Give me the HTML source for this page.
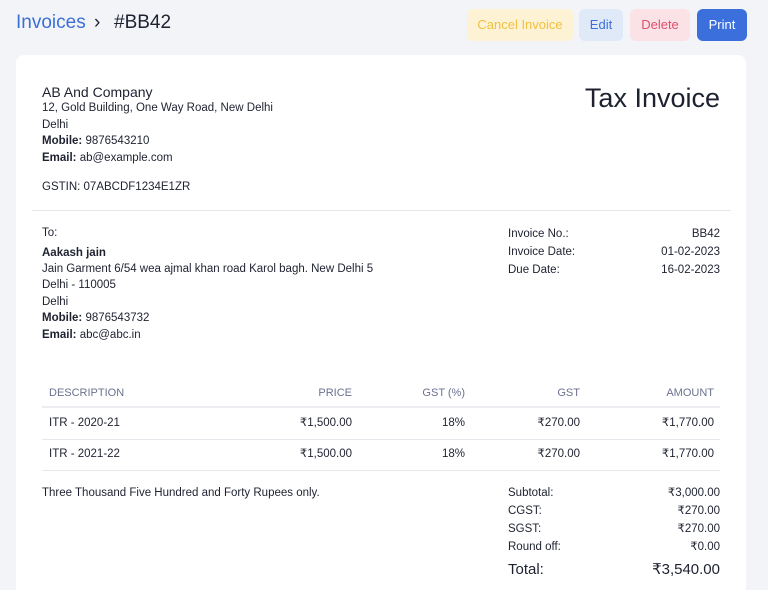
<!DOCTYPE html>
<html style="overflow:hidden;height:590px"><head><meta charset="utf-8"><style>
body{margin:0;width:768px;height:590px;background:#f3f4f8;font-family:"Liberation Sans",sans-serif;color:#1e2230;overflow:hidden;position:relative}
.a{position:absolute;white-space:nowrap;line-height:1}
.btn{position:absolute;top:9px;height:32px;border-radius:6px;font-size:13px;line-height:32px;text-align:center}
.card{position:absolute;left:16px;top:55px;width:730px;height:535px;background:#fff;border-radius:8px 8px 0 0}
.s{font-size:11.5px}
.r{text-align:right}
.hr{position:absolute;height:1px;background:#e6e7ec}
.th{font-size:11px;color:#6b7190}
</style></head><body>
<div class="a" style="left:16px;top:13px;font-size:19px;color:#3b6fd8">Invoices</div>
<div class="a" style="left:94px;top:13px;font-size:19px">&#x203A;</div>
<div class="a" style="left:114px;top:13px;font-size:19px">#BB42</div>
<div class="btn" style="left:467px;width:106px;background:#fdf3d4;color:#f0c040">Cancel Invoice</div>
<div class="btn" style="left:579px;width:44px;background:#dfe9f8;color:#3b6fd8">Edit</div>
<div class="btn" style="left:630px;width:60px;background:#fbe2e7;color:#e0506a">Delete</div>
<div class="btn" style="left:697px;width:50px;background:#3a6fdc;color:#fff">Print</div>
<div class="card"></div>
<div class="a" style="left:42px;top:85px;font-size:14px">AB And Company</div>
<div class="a s" style="left:42px;top:103px">12, Gold Building, One Way Road, New Delhi</div>
<div class="a s" style="left:42px;top:120px">Delhi</div>
<div class="a s" style="left:42px;top:136px"><b>Mobile:</b> 9876543210</div>
<div class="a s" style="left:42px;top:153px"><b>Email:</b> ab@example.com</div>
<div class="a s" style="left:42px;top:182px">GSTIN: 07ABCDF1234E1ZR</div>
<div class="a" style="right:48px;top:85px;font-size:27px">Tax Invoice</div>
<div class="hr" style="left:32px;width:699px;top:210px"></div>
<div class="a s" style="left:42px;top:228px">To:</div>
<div class="a s" style="left:42px;top:248px;font-weight:bold">Aakash jain</div>
<div class="a s" style="left:42px;top:264px">Jain Garment 6/54 wea ajmal khan road Karol bagh. New Delhi 5</div>
<div class="a s" style="left:42px;top:280px">Delhi - 110005</div>
<div class="a s" style="left:42px;top:297px">Delhi</div>
<div class="a s" style="left:42px;top:313px"><b>Mobile:</b> 9876543732</div>
<div class="a s" style="left:42px;top:330px"><b>Email:</b> abc@abc.in</div>
<div class="a s" style="left:508px;top:229px">Invoice No.:</div>
<div class="a s" style="left:508px;top:247px">Invoice Date:</div>
<div class="a s" style="left:508px;top:265px">Due Date:</div>
<div class="a s r" style="right:48px;top:229px">BB42</div>
<div class="a s r" style="right:48px;top:247px">01-02-2023</div>
<div class="a s r" style="right:48px;top:265px">16-02-2023</div>
<div class="a th" style="left:49px;top:388px">DESCRIPTION</div>
<div class="a th" style="right:416px;top:388px">PRICE</div>
<div class="a th" style="right:303px;top:388px">GST (%)</div>
<div class="a th" style="right:188px;top:388px">GST</div>
<div class="a th" style="right:54px;top:388px">AMOUNT</div>
<div class="hr" style="left:42px;width:678px;top:406px;height:2px;background:#eceef2"></div>
<div class="a s" style="left:49px;top:418px">ITR - 2020-21</div>
<div class="a s" style="right:416px;top:418px">₹1,500.00</div>
<div class="a s" style="right:303px;top:418px">18%</div>
<div class="a s" style="right:188px;top:418px">₹270.00</div>
<div class="a s" style="right:54px;top:418px">₹1,770.00</div>
<div class="hr" style="left:42px;width:678px;top:439px"></div>
<div class="a s" style="left:49px;top:449px">ITR - 2021-22</div>
<div class="a s" style="right:416px;top:449px">₹1,500.00</div>
<div class="a s" style="right:303px;top:449px">18%</div>
<div class="a s" style="right:188px;top:449px">₹270.00</div>
<div class="a s" style="right:54px;top:449px">₹1,770.00</div>
<div class="hr" style="left:42px;width:678px;top:470px"></div>
<div class="a s" style="left:42px;top:488px">Three Thousand Five Hundred and Forty Rupees only.</div>
<div class="a s" style="left:508px;top:488px">Subtotal:</div>
<div class="a s" style="left:508px;top:506px">CGST:</div>
<div class="a s" style="left:508px;top:524px">SGST:</div>
<div class="a s" style="left:508px;top:542px">Round off:</div>
<div class="a" style="left:508px;top:562px;font-size:15px">Total:</div>
<div class="a s" style="right:48px;top:488px">₹3,000.00</div>
<div class="a s" style="right:48px;top:506px">₹270.00</div>
<div class="a s" style="right:48px;top:524px">₹270.00</div>
<div class="a s" style="right:48px;top:542px">₹0.00</div>
<div class="a" style="right:48px;top:562px;font-size:15px">₹3,540.00</div>
</body></html>
